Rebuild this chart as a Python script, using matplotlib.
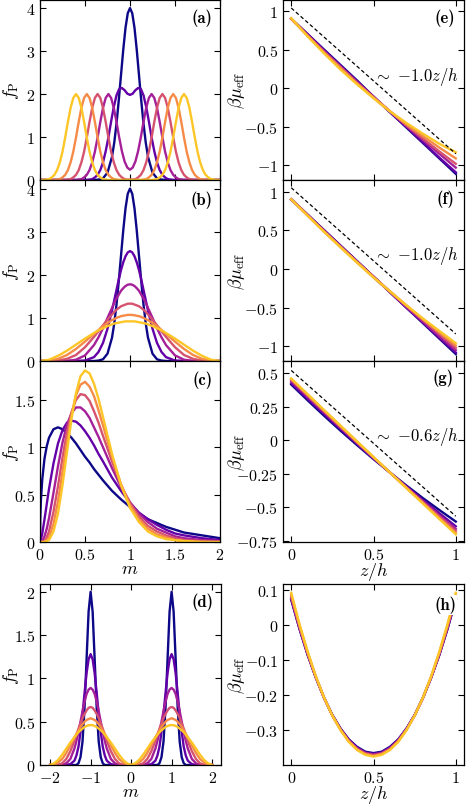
import numpy as np
import matplotlib
matplotlib.use("Agg")
import matplotlib.pyplot as plt
from matplotlib.ticker import FixedLocator, FuncFormatter

plt.rcParams['mathtext.fontset'] = 'cm'
plt.rcParams['font.family'] = 'serif'
plt.rcParams['font.serif'] = ['cmr10', 'DejaVu Serif']
plt.rcParams['axes.formatter.use_mathtext'] = True

# ---------------- data ----------------
# (a) half profiles, m = 1 +/- x
x_a = [0, .03, .06, .09, .12, .15, .18, .21, .24, .27, .30, .33, .36, .39, .42, .45, .48,
       .51, .54, .57, .60, .63, .66, .69, .72, .75, .78, .81, .84, .87, .90, .93, .96, .99, 1.0]
a_purple = [1.98, 2.01, 2.09, 2.14, 2.12, 1.97, 1.70, 1.36, 0.99, 0.67, 0.41, 0.23, 0.12, 0.06,
            0.02, 0.01] + [0] * 19
a_magenta = [0.24, 0.29, 0.43, 0.67, 0.99, 1.35, 1.68, 1.91, 2.00, 1.91, 1.68, 1.35, 0.99, 0.66,
             0.41, 0.23, 0.12, 0.06, 0.02, 0.01] + [0] * 15
a_pink = [0.01, 0.01, 0.02, 0.06, 0.12, 0.23, 0.41, 0.66, 0.99, 1.35, 1.68, 1.91, 2.00, 1.91,
          1.68, 1.35, 0.99, 0.66, 0.41, 0.23, 0.12, 0.06, 0.02, 0.01] + [0] * 11
a_orange = [0, 0, 0, 0, 0, 0.01, 0.02, 0.06, 0.12, 0.23, 0.41, 0.66, 0.99, 1.35, 1.68, 1.91,
            2.00, 1.91, 1.68, 1.35, 0.99, 0.66, 0.41, 0.23, 0.12, 0.06, 0.02, 0.01] + [0] * 7
a_yellow = [0] * 9 + [0.01, 0.02, 0.06, 0.12, 0.23, 0.41, 0.66, 0.99, 1.35, 1.68, 1.91, 2.00,
                      1.91, 1.68, 1.35, 0.99, 0.66, 0.41, 0.23, 0.12, 0.06, 0.02, 0.01] + [0] * 3

# (b) half profiles, m = 1 +/- x (blue is shared with (a))
x_b = [0, .025, .05, .075, .1, .125, .15, .175, .2, .25, .3, .35, .4, .5, .6, .7, .8, .9, 1.0]
b_blue = [4.00, 3.88, 3.54, 3.03, 2.44, 1.85, 1.31, 0.87, 0.54, 0.17, 0.04, 0.01, 0, 0, 0, 0, 0, 0, 0]
b_purple = [2.55, 2.52, 2.43, 2.29, 2.11, 1.89, 1.65, 1.41, 1.17, 0.75, 0.42, 0.21, 0.09, 0.01, 0, 0, 0, 0, 0]
b_magenta = [1.78, 1.77, 1.74, 1.69, 1.63, 1.54, 1.45, 1.35, 1.23, 1.00, 0.76, 0.55, 0.37, 0.13, 0.03, 0, 0, 0, 0]
b_pink = [1.33, 1.33, 1.31, 1.29, 1.27, 1.23, 1.19, 1.14, 1.08, 0.96, 0.83, 0.69, 0.56, 0.32, 0.14, 0.05, 0.01, 0, 0]
b_orange = [1.07, 1.07, 1.06, 1.05, 1.04, 1.02, 1.00, 0.97, 0.95, 0.88, 0.81, 0.72, 0.63, 0.45, 0.28, 0.14, 0.05, 0.01, 0]
b_yellow = [0.92, 0.92, 0.92, 0.91, 0.90, 0.89, 0.88, 0.87, 0.85, 0.81, 0.76, 0.71, 0.65, 0.52, 0.38, 0.24, 0.12, 0.03, 0]

# (c)
m_c = [0, .003, .01, .025, .05, .075, .1, .15, .2, .25, .3, .35, .4, .45, .5, .55, .6, .65, .7,
       .8, .9, 1.0, 1.1, 1.2, 1.3, 1.4, 1.5, 1.6, 1.8, 2.0]
c_blue = [0, 0.24, 0.44, 0.66, 0.88, 1.01, 1.10, 1.19, 1.21, 1.19, 1.15, 1.10, 1.04, 0.97, 0.90,
          0.84, 0.77, 0.71, 0.65, 0.54, 0.45, 0.37, 0.30, 0.24, 0.20, 0.16, 0.13, 0.10, 0.07, 0.04]
c_purple = [0, 0, 0.03, 0.09, 0.24, 0.40, 0.56, 0.83, 1.04, 1.18, 1.26, 1.28, 1.27, 1.23, 1.17,
            1.10, 1.02, 0.93, 0.85, 0.68, 0.54, 0.41, 0.31, 0.24, 0.18, 0.13, 0.09, 0.07, 0.04, 0.02]
c_magenta = [0, 0, 0, 0.01, 0.06, 0.14, 0.25, 0.52, 0.80, 1.05, 1.24, 1.36, 1.42, 1.42, 1.38,
             1.31, 1.21, 1.11, 1.00, 0.78, 0.58, 0.42, 0.30, 0.21, 0.14, 0.10, 0.06, 0.04, 0.02, 0.01]
c_pink = [0, 0, 0, 0, 0.01, 0.05, 0.11, 0.32, 0.59, 0.89, 1.16, 1.37, 1.50, 1.56, 1.55,
          1.49, 1.38, 1.26, 1.12, 0.85, 0.60, 0.41, 0.27, 0.17, 0.11, 0.07, 0.04, 0.02, 0.01, 0]
c_orange = [0, 0, 0, 0, 0, 0.02, 0.05, 0.19, 0.43, 0.74, 1.06, 1.34, 1.55, 1.66, 1.69,
            1.64, 1.54, 1.39, 1.23, 0.90, 0.61, 0.39, 0.24, 0.14, 0.08, 0.05, 0.02, 0.01, 0, 0]
c_yellow = [0, 0, 0, 0, 0, 0.01, 0.02, 0.11, 0.30, 0.60, 0.95, 1.30, 1.57, 1.75, 1.81,
            1.78, 1.67, 1.51, 1.32, 0.93, 0.60, 0.36, 0.21, 0.11, 0.06, 0.03, 0.02, 0.01, 0, 0]

# (d) half profile of each peak, m = +/-1 +/- x
x_d = [0, .05, .1, .15, .2, .25, .3, .35, .4, .5, .6, .7, .8, .9, 1.0]
d_blue = [2.00, 1.77, 1.22, 0.66, 0.27, 0.09, 0.02, 0, 0, 0, 0, 0, 0, 0, 0]
d_purple = [1.28, 1.22, 1.06, 0.83, 0.59, 0.38, 0.21, 0.11, 0.05, 0.01, 0, 0, 0, 0, 0]
d_magenta = [0.89, 0.87, 0.82, 0.73, 0.62, 0.50, 0.38, 0.28, 0.19, 0.07, 0.02, 0, 0, 0, 0]
d_pink = [0.67, 0.66, 0.63, 0.59, 0.54, 0.48, 0.42, 0.35, 0.28, 0.16, 0.07, 0.02, 0, 0, 0]
d_orange = [0.54, 0.53, 0.52, 0.50, 0.47, 0.44, 0.40, 0.36, 0.32, 0.23, 0.14, 0.07, 0.03, 0, 0]
d_yellow = [0.46, 0.46, 0.45, 0.44, 0.42, 0.40, 0.38, 0.35, 0.32, 0.26, 0.19, 0.12, 0.06, 0.02, 0]

# (e)-(g)
z = [0, .1, .2, .3, .4, .5, .6, .7, .8, .9, 1.0]
e_blue = [0.90, 0.70, 0.50, 0.30, 0.10, -0.11, -0.31, -0.51, -0.71, -0.91, -1.11]
e_purple = [0.90, 0.70, 0.49, 0.29, 0.09, -0.11, -0.31, -0.50, -0.70, -0.90, -1.09]
e_magenta = [0.90, 0.69, 0.48, 0.28, 0.08, -0.11, -0.30, -0.49, -0.67, -0.85, -1.03]
e_pink = [0.90, 0.68, 0.47, 0.27, 0.07, -0.12, -0.30, -0.48, -0.65, -0.82, -0.98]
e_orange = [0.90, 0.68, 0.46, 0.26, 0.06, -0.12, -0.30, -0.47, -0.62, -0.77, -0.91]
e_yellow = [0.91, 0.67, 0.45, 0.24, 0.05, -0.13, -0.30, -0.45, -0.59, -0.72, -0.83]

f_blue = [0.90, 0.70, 0.50, 0.30, 0.10, -0.10, -0.30, -0.50, -0.70, -0.90, -1.10]
f_purple = [0.90, 0.70, 0.50, 0.30, 0.10, -0.10, -0.30, -0.50, -0.69, -0.89, -1.08]
f_magenta = [0.90, 0.70, 0.49, 0.29, 0.09, -0.10, -0.30, -0.49, -0.68, -0.87, -1.05]
f_pink = [0.90, 0.69, 0.49, 0.29, 0.09, -0.10, -0.29, -0.48, -0.66, -0.84, -1.02]
f_orange = [0.90, 0.69, 0.48, 0.28, 0.09, -0.11, -0.29, -0.47, -0.65, -0.82, -0.99]
f_yellow = [0.90, 0.69, 0.48, 0.28, 0.08, -0.11, -0.29, -0.47, -0.64, -0.80, -0.96]

g_blue = [0.415, 0.297, 0.182, 0.071, -0.036, -0.140, -0.240, -0.337, -0.430, -0.519, -0.605]
g_purple = [0.425, 0.309, 0.195, 0.083, -0.027, -0.135, -0.240, -0.343, -0.444, -0.543, -0.640]
g_magenta = [0.440, 0.323, 0.207, 0.093, -0.020, -0.131, -0.240, -0.348, -0.453, -0.558, -0.660]
g_pink = [0.450, 0.332, 0.215, 0.099, -0.015, -0.128, -0.240, -0.351, -0.460, -0.568, -0.675]
g_orange = [0.455, 0.338, 0.221, 0.105, -0.011, -0.126, -0.240, -0.354, -0.466, -0.579, -0.690]
g_yellow = [0.460, 0.343, 0.225, 0.109, -0.008, -0.124, -0.240, -0.356, -0.471, -0.586, -0.700]

# dashed guide lines (end points) and their labels
guide_e = [1.04, -0.85]
guide_f = [1.05, -0.84]
guide_g = [0.52, -0.565]
guide_text = [r'$\sim\ {-1.0}z/h$', r'$\sim\ {-1.0}z/h$', r'$\sim\ {-0.6}z/h$']

# (h) half profile z in [0, 0.5], symmetric about z = 0.5
z_h = [0, .05, .1, .15, .2, .25, .3, .35, .4, .45, .5]
h_blue = [0.072, -0.011, -0.086, -0.151, -0.208, -0.257, -0.296, -0.327, -0.348, -0.362, -0.366]
h_purple = [0.074, -0.010, -0.085, -0.151, -0.209, -0.258, -0.297, -0.328, -0.350, -0.364, -0.368]
h_magenta = [0.078, -0.007, -0.083, -0.150, -0.209, -0.258, -0.298, -0.330, -0.352, -0.366, -0.370]
h_pink = [0.082, -0.004, -0.081, -0.150, -0.209, -0.259, -0.299, -0.331, -0.354, -0.367, -0.372]
h_orange = [0.087, -0.001, -0.079, -0.148, -0.208, -0.259, -0.300, -0.333, -0.356, -0.369, -0.374]
h_yellow = [0.092, 0.003, -0.076, -0.147, -0.208, -0.259, -0.301, -0.334, -0.357, -0.371, -0.376]

colors = plt.cm.plasma([0.0, 0.18, 0.36, 0.54, 0.72, 0.88])
LW = 1.7
TICK_FS = 11.5


def mirror(x_half, y_half, centre):
    x_half = np.asarray(x_half, float)
    y_half = np.asarray(y_half, float)
    m = np.concatenate([centre - x_half[::-1], centre + x_half[1:]])
    y = np.concatenate([y_half[::-1], y_half[1:]])
    return m, y


def fmt(v, pos):
    return '$%g$' % v


W, H = 474, 812
fig = plt.figure(figsize=(W / 100, H / 100), dpi=100)


def make_ax(l, t, r, b):
    ax = fig.add_axes([l / W, 1 - b / H, (r - l) / W, (b - t) / H])
    ax.tick_params(direction='in', top=True, right=True, length=4, width=0.8,
                   labelsize=TICK_FS, pad=3.5)
    for s in ax.spines.values():
        s.set_linewidth(0.9)
    ax.yaxis.set_major_formatter(FuncFormatter(fmt))
    ax.xaxis.set_major_formatter(FuncFormatter(fmt))
    return ax


def panel_label(ax, s, x, y):
    ax.text(x, y, '(%s)' % s, transform=ax.transAxes, ha='right', va='center',
            fontsize=12, family='cmb10', zorder=10,
            bbox=dict(facecolor='white', edgecolor='none', pad=1.0))


# left column
ax_a = make_ax(40, 0.5, 220, 181)
ax_b = make_ax(40, 181, 220, 362)
ax_c = make_ax(40, 362, 220, 543)
ax_d = make_ax(40, 585, 221, 766)
# right column
ax_e = make_ax(283, 0.5, 464, 181)
ax_f = make_ax(283, 181, 464, 362)
ax_g = make_ax(283, 362, 464, 543)
ax_h = make_ax(283, 585, 464, 766)

# (a)
m, y = mirror(x_b, b_blue, 1.0)
ax_a.plot(m, y, color=colors[0], lw=LW)
for ys, c in zip([a_purple, a_magenta, a_pink, a_orange, a_yellow], colors[1:]):
    m, y = mirror(x_a, ys, 1.0)
    ax_a.plot(m, y, color=c, lw=LW)

# (b)
for ys, c in zip([b_blue, b_purple, b_magenta, b_pink, b_orange, b_yellow], colors):
    m, y = mirror(x_b, ys, 1.0)
    ax_b.plot(m, y, color=c, lw=LW)

# (c)
for ys, c in zip([c_blue, c_purple, c_magenta, c_pink, c_orange, c_yellow], colors):
    ax_c.plot(m_c, ys, color=c, lw=LW)

# (d)
for ys, c in zip([d_blue, d_purple, d_magenta, d_pink, d_orange, d_yellow], colors):
    mr, yr = mirror(x_d, ys, 1.0)
    m = np.concatenate([-mr[::-1], mr[1:]])
    y = np.concatenate([yr[::-1], yr[1:]])
    ax_d.plot(m, y, color=c, lw=LW)

for ax in (ax_a, ax_b, ax_c):
    ax.set_xlim(0, 2)
    ax.xaxis.set_major_locator(FixedLocator([0, 0.5, 1, 1.5, 2]))
    ax.set_ylabel(r'$f_{\rm P}$', fontsize=13)
    ax.yaxis.set_label_coords(-0.105, 0.5)
for ax in (ax_a, ax_b):
    ax.set_ylim(0, 4.2)
    ax.yaxis.set_major_locator(FixedLocator([0, 1, 2, 3, 4]))
    ax.tick_params(labelbottom=False)
ax_c.set_ylim(0, 1.91)
ax_c.yaxis.set_major_locator(FixedLocator([0, 0.5, 1, 1.5]))
ax_c.set_xlabel(r'$m$', fontsize=13, labelpad=-1)

ax_d.set_xlim(-2.25, 2.22)
ax_d.set_ylim(0, 2.09)
ax_d.xaxis.set_major_locator(FixedLocator([-2, -1, 0, 1, 2]))
ax_d.yaxis.set_major_locator(FixedLocator([0, 0.5, 1, 1.5, 2]))
ax_d.set_ylabel(r'$f_{\rm P}$', fontsize=13)
ax_d.yaxis.set_label_coords(-0.105, 0.5)
ax_d.set_xlabel(r'$m$', fontsize=13, labelpad=-1)

# (e)-(g)
for ax, sets, guide, txt, ty in [
        (ax_e, [e_blue, e_purple, e_magenta, e_pink, e_orange, e_yellow], guide_e, guide_text[0], 0.16),
        (ax_f, [f_blue, f_purple, f_magenta, f_pink, f_orange, f_yellow], guide_f, guide_text[1], 0.18),
        (ax_g, [g_blue, g_purple, g_magenta, g_pink, g_orange, g_yellow], guide_g, guide_text[2], 0.03)]:
    for ys, c in zip(sets, colors):
        ax.plot(z, ys, color=c, lw=LW)
    ax.plot([0, 1], guide, color='black', lw=0.9, ls=(0, (3, 2)))
    ax.text(0.5, ty, txt, fontsize=12, ha='left', va='center')

# (h)
for ys, c in zip([h_blue, h_purple, h_magenta, h_pink, h_orange, h_yellow], colors):
    zz, y = mirror(np.subtract(0.5, z_h)[::-1], np.asarray(ys)[::-1], 0.5)
    ax_h.plot(zz, y, color=c, lw=LW)

for ax in (ax_e, ax_f, ax_g, ax_h):
    ax.set_xlim(-0.05, 1.05)
    ax.xaxis.set_major_locator(FixedLocator([0, 0.5, 1]))
    ax.set_ylabel(r'$\beta\mu_{\rm eff}$', fontsize=13)
    ax.yaxis.set_label_coords(-0.2, 0.5)
for ax in (ax_e, ax_f):
    ax.set_ylim(-1.19, 1.15)
    ax.yaxis.set_major_locator(FixedLocator([-1, -0.5, 0, 0.5, 1]))
    ax.tick_params(labelbottom=False)
ax_g.set_ylim(-0.757, 0.59)
ax_g.yaxis.set_major_locator(FixedLocator([-0.75, -0.5, -0.25, 0, 0.25, 0.5]))
ax_g.set_xlabel(r'$z/h$', fontsize=13, labelpad=-1)
ax_h.set_ylim(-0.4, 0.117)
ax_h.yaxis.set_major_locator(FixedLocator([-0.3, -0.2, -0.1, 0, 0.1]))
ax_h.set_xlabel(r'$z/h$', fontsize=13, labelpad=-1)

panel_label(ax_a, 'a', 0.96, 0.90)
panel_label(ax_b, 'b', 0.96, 0.895)
panel_label(ax_c, 'c', 0.96, 0.897)
panel_label(ax_d, 'd', 0.956, 0.902)
panel_label(ax_e, 'e', 0.949, 0.90)
panel_label(ax_f, 'f', 0.949, 0.90)
panel_label(ax_g, 'g', 0.945, 0.91)
panel_label(ax_h, 'h', 0.956, 0.886)

fig.savefig('out.png', dpi=100)
